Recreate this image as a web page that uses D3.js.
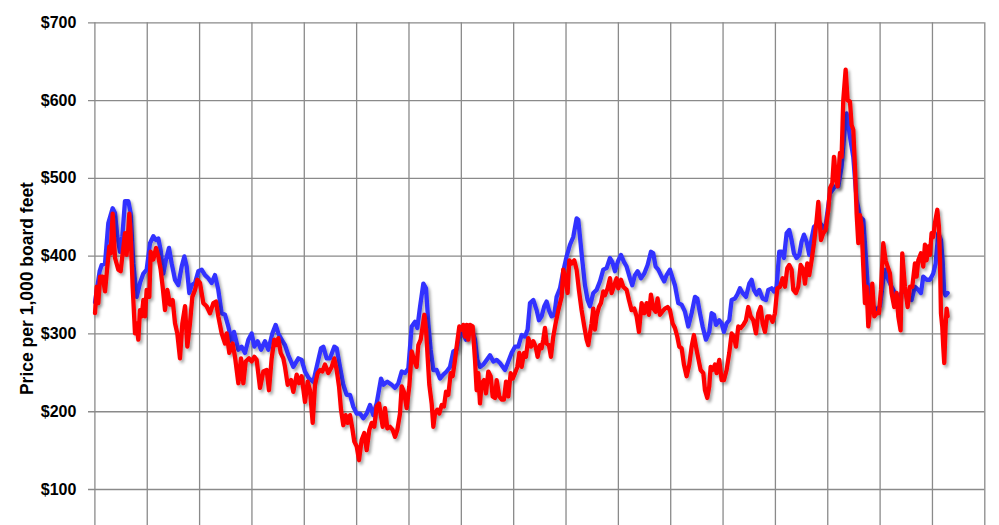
<!DOCTYPE html>
<html>
<head>
<meta charset="utf-8">
<script src="https://cdn.jsdelivr.net/npm/d3@7"></script>
<style>
  html, body { margin: 0; padding: 0; background: #fff; }
  svg { display: block; }
</style>
</head>
<body>
<svg id="chart" width="999" height="525"></svg>
<script>
// ---- Data (decimal years, $ per 1,000 board feet) ----
const yTicks = [100, 200, 300, 400, 500, 600, 700];
const yearGrid = d3.range(2004, 2022);
const yLabel = "Price per 1,000 board feet";

const blueYears = [2004.012,2004.06,2004.10,2004.139,2004.203,2004.266,2004.349,2004.394,2004.438,2004.489,2004.534,2004.584,2004.648,2004.693,2004.744,2004.807,2004.871,2004.935,2004.998,2005.062,2005.126,2005.177,2005.221,2005.266,2005.317,2005.368,2005.425,2005.476,2005.540,2005.603,2005.667,2005.718,2005.763,2005.813,2005.858,2005.922,2005.985,2006.049,2006.113,2006.176,2006.240,2006.304,2006.367,2006.431,2006.495,2006.558,2006.622,2006.667,
2006.750,2006.813,2006.877,2006.941,2007.004,2007.055,2007.119,2007.183,2007.259,2007.323,2007.399,2007.463,2007.514,2007.577,2007.641,2007.705,2007.800,2007.896,2007.959,2008.023,2008.099,2008.182,2008.246,2008.329,2008.373,2008.437,2008.501,2008.583,2008.628,2008.692,2008.755,2008.819,2008.883,2008.946,2009.010,2009.074,2009.137,2009.201,2009.265,2009.328,2009.392,2009.475,
2009.520,2009.596,2009.679,2009.743,2009.806,2009.870,2009.934,2009.997,2010.061,2010.125,2010.169,2010.220,2010.284,2010.335,2010.379,2010.424,2010.475,2010.538,2010.602,2010.666,2010.729,2010.793,2010.857,2010.920,2010.971,2011.035,2011.099,2011.143,2011.207,2011.271,2011.315,2011.366,2011.430,2011.493,2011.557,2011.621,2011.684,2011.748,2011.844,2011.907,2011.971,2012.035,2012.098,2012.162,2012.226,
2012.276,2012.321,2012.384,2012.448,2012.492,2012.543,2012.594,2012.639,2012.683,2012.734,2012.785,2012.830,2012.894,2012.957,2013.021,2013.085,2013.148,2013.212,2013.244,2013.276,2013.320,2013.371,2013.422,2013.467,2013.530,2013.594,2013.658,2013.721,2013.785,2013.849,2013.893,2013.944,2014.008,2014.059,2014.116,2014.167,2014.231,2014.275,2014.326,2014.377,2014.441,2014.504,2014.568,2014.632,2014.676,2014.721,2014.772,2014.836,2014.886,2014.931,2014.995,2015.046,2015.090,
2015.154,2015.218,2015.282,2015.345,2015.409,2015.473,2015.517,2015.568,2015.619,2015.683,2015.746,2015.791,2015.835,2015.874,2015.937,2015.982,2016.026,2016.077,2016.128,2016.173,2016.237,2016.281,2016.332,2016.383,2016.447,2016.510,2016.555,2016.599,2016.650,2016.701,2016.765,2016.829,2016.873,2016.937,2016.981,2017.032,2017.083,2017.128,2017.173,2017.224,2017.274,2017.319,2017.363,2017.414,2017.465,2017.510,2017.555,2017.606,2017.656,2017.701,2017.746,2017.797,2017.860,
2017.956,2018.052,2018.147,2018.211,2018.274,2018.338,2018.370,2018.434,2018.497,2018.561,2018.625,2018.688,2018.720,2018.771,2018.816,2018.879,2018.943,2019.007,2019.070,2019.115,2019.166,2019.229,2019.293,2019.357,2019.420,2019.484,2019.548,2019.611,2019.675,2019.739,2019.790,2019.834,2019.898,2019.962,2020.025,2020.070,2020.121,2020.172,2020.204,2020.235,2020.261,2020.299];
const blueValues = [340,362,380,388,390,442,461,455,425,405,425,470,470,455,390,347,365,377,382,416,425,420,422,407,377,395,410,390,369,362,386,399,386,352,362,365,380,382,375,371,365,375,356,326,324,309,290,302,
279,283,275,292,300,283,290,279,290,279,300,311,300,292,285,272,257,268,266,251,242,238,257,281,283,268,268,283,281,257,234,221,221,206,197,197,191,197,208,195,210,242,
234,238,234,230,236,251,249,255,309,315,307,334,364,358,313,279,253,253,242,247,251,257,277,279,300,300,292,302,307,292,266,257,260,266,272,264,266,262,253,264,275,283,283,298,296,
305,339,343,330,317,322,335,341,330,322,324,347,358,380,399,414,424,448,446,424,394,362,343,335,352,356,367,382,384,397,392,380,394,401,392,386,371,362,375,380,371,377,388,405,403,386,382,373,367,375,382,371,362,
339,337,328,309,326,347,345,326,309,292,302,326,324,311,317,313,302,313,317,343,345,350,358,352,347,364,369,356,350,356,345,343,356,358,354,360,405,405,397,429,433,420,403,397,401,418,427,418,401,422,437,440,442,
433,480,489,489,514,566,583,553,527,472,450,446,416,364,347,335,330,335,369,382,369,360,352,347,352,356,347,343,360,356,352,373,369,369,377,390,429,420,394,352,349,352];

const redYears = [2004.012,2004.043,2004.075,2004.107,2004.158,2004.203,2004.247,2004.285,2004.311,2004.349,2004.394,2004.457,2004.502,2004.540,2004.585,2004.616,2004.667,2004.693,2004.731,2004.776,2004.807,2004.839,2004.871,2004.903,2004.935,2004.967,2004.998,2005.049,2005.075,2005.126,2005.177,2005.221,2005.266,2005.304,2005.349,2005.393,2005.444,2005.495,2005.540,2005.584,2005.635,2005.680,2005.731,2005.775,2005.826,2005.871,2005.922,2005.966,2006.017,2006.081,2006.144,2006.208,2006.272,2006.323,2006.367,2006.431,2006.495,2006.527,2006.577,2006.641,
2006.686,2006.750,2006.801,2006.845,2006.890,2006.953,2007.004,2007.055,2007.100,2007.164,2007.227,2007.291,2007.335,2007.386,2007.437,2007.482,2007.514,2007.558,2007.609,2007.641,2007.692,2007.756,2007.800,2007.864,2007.908,2007.959,2008.023,2008.074,2008.119,2008.170,2008.214,2008.265,2008.310,2008.354,2008.405,2008.469,2008.532,2008.583,2008.628,2008.673,2008.711,2008.755,2008.800,2008.838,2008.883,2008.927,2008.965,2009.010,2009.055,2009.105,2009.156,2009.201,2009.252,2009.297,2009.347,2009.392,2009.437,
2009.507,2009.551,2009.596,2009.647,2009.698,2009.743,2009.787,2009.838,2009.870,2009.914,2009.965,2010.016,2010.061,2010.105,2010.156,2010.188,2010.233,2010.271,2010.303,2010.335,2010.366,2010.398,2010.443,2010.475,2010.507,2010.551,2010.589,2010.634,2010.678,2010.717,2010.761,2010.806,2010.844,2010.889,2010.920,2010.971,2011.016,2011.048,2011.080,2011.111,2011.143,2011.175,2011.226,2011.271,2011.302,2011.334,2011.366,2011.398,2011.443,2011.481,2011.525,2011.570,2011.608,2011.653,2011.684,2011.735,2011.780,2011.824,2011.863,2011.907,2011.952,2011.990,2012.035,2012.079,2012.117,2012.162,2012.207,2012.245,2012.289,
2012.340,2012.384,2012.429,2012.467,2012.512,2012.543,2012.575,2012.607,2012.639,2012.683,2012.722,2012.766,2012.811,2012.862,2012.925,2012.957,2013.002,2013.040,2013.072,2013.116,2013.167,2013.212,2013.256,2013.307,2013.358,2013.403,2013.435,2013.467,2013.498,2013.530,2013.562,2013.594,2013.638,2013.677,2013.721,2013.753,2013.804,2013.849,2013.880,2013.931,2013.976,2014.008,2014.059,2014.103,2014.167,2014.212,2014.262,2014.313,2014.358,2014.403,2014.454,2014.504,2014.549,2014.594,2014.632,2014.676,2014.721,2014.759,2014.804,2014.848,2014.899,2014.950,2014.995,
2015.046,2015.090,2015.135,2015.173,2015.218,2015.262,2015.313,2015.364,2015.409,2015.453,2015.492,2015.536,2015.581,2015.632,2015.664,2015.708,2015.746,2015.772,2015.810,2015.855,2015.886,2015.937,2015.982,2016.026,2016.077,2016.128,2016.173,2016.217,2016.256,2016.300,2016.345,2016.396,2016.447,2016.491,2016.536,2016.587,2016.638,2016.682,2016.727,2016.765,2016.810,2016.854,2016.905,2016.956,2017.001,2017.045,2017.096,2017.147,2017.192,2017.236,2017.274,2017.319,2017.351,2017.402,2017.446,2017.491,2017.542,2017.574,2017.618,2017.656,2017.701,2017.746,2017.797,
2017.829,2017.880,2017.924,2017.969,2018.020,2018.052,2018.096,2018.128,2018.160,2018.198,2018.243,2018.274,2018.306,2018.351,2018.389,2018.434,2018.465,2018.497,2018.529,2018.561,2018.593,2018.625,2018.656,2018.688,2018.720,2018.752,2018.784,2018.828,2018.860,2018.898,2018.943,2018.987,2019.026,2019.070,2019.115,2019.153,2019.198,2019.229,2019.280,2019.325,2019.357,2019.401,2019.433,2019.484,2019.535,2019.580,2019.624,2019.675,2019.707,2019.739,2019.790,2019.834,2019.866,2019.898,2019.930,2019.962,2019.993,2020.025,2020.057,2020.102,2020.134,2020.153,2020.172,2020.197,2020.216,2020.235,2020.261,2020.280,2020.299];
const redValues = [326,360,339,373,373,354,386,412,403,454,397,382,380,403,429,401,454,425,360,300,313,292,330,322,343,322,356,347,405,395,410,399,382,360,330,356,337,343,313,300,268,313,335,283,313,347,356,369,365,339,335,326,339,341,322,300,287,300,275,287,
270,236,268,236,264,268,264,270,266,230,251,253,227,268,292,285,294,275,268,257,234,240,225,247,236,245,212,238,227,185,234,249,253,251,260,249,257,268,253,232,202,182,195,185,195,178,161,155,137,163,172,150,176,185,180,206,210,
180,204,178,180,176,167,176,197,232,225,204,232,277,266,257,285,292,309,324,305,270,234,210,180,197,202,197,208,206,225,221,249,245,266,283,309,305,311,296,311,292,311,309,266,227,249,210,236,240,223,251,245,219,217,240,219,215,215,238,219,249,242,249,257,275,257,275,270,294,
283,290,283,270,285,281,292,307,287,285,270,296,313,330,347,382,369,352,394,390,394,382,356,330,309,292,285,300,313,332,305,322,334,339,354,349,358,371,352,362,371,358,369,360,356,343,330,332,322,302,339,326,339,324,350,332,328,345,324,328,332,334,330,
313,307,296,283,281,260,245,260,283,298,283,268,253,249,227,217,232,257,253,260,249,266,240,240,253,275,300,296,283,309,307,311,317,334,322,317,300,326,334,313,302,322,322,315,326,358,360,371,360,384,388,382,356,352,360,388,382,364,390,375,394,416,446,
469,420,429,433,459,487,493,527,504,489,532,527,600,639,600,598,568,562,514,454,416,452,437,386,339,360,309,334,364,322,326,326,356,416,394,386,377,352,334,352,322,304,403,360,334,360,360,390,373,394,403,386,414,394,412,401,429,424,442,459,437,394,326,309,283,262,309,332,322];

// ---- Layout ----
const svg = d3.select("#chart");
const x = d3.scaleLinear().domain([2004, 2021]).range([94.4, 984.3]);
const y = d3.scaleLinear().domain([0, 700]).range([566.8, 22.3]);
const gridColor = "#8a8a8a";

// drop shadow filter
const defs = svg.append("defs");
const f = defs.append("filter").attr("id", "shadow")
  .attr("x", "-5%").attr("y", "-5%").attr("width", "110%").attr("height", "110%");
f.append("feDropShadow").attr("dx", 2).attr("dy", 2.5).attr("stdDeviation", 1.6)
  .attr("flood-color", "#000").attr("flood-opacity", 0.35);

// horizontal gridlines + y axis ticks
const yAxis = d3.axisLeft(y).tickValues(yTicks).tickSize(x.range()[1] - x.range()[0] + 6.4)
  .tickPadding(12).tickFormat(d => "$" + d);
const gy = svg.append("g").attr("transform", `translate(${x.range()[1]},0)`).call(yAxis);
gy.select(".domain").remove();
gy.selectAll(".tick line").attr("stroke", gridColor).attr("stroke-width", 1.3);
gy.selectAll(".tick text")
  .attr("x", -(x.range()[1] - x.range()[0]) - 18)
  .style("font-family", "'Liberation Sans', Arial, sans-serif")
  .style("font-weight", "bold").style("font-size", "16px").attr("fill", "#000");

// vertical gridlines
const xAxis = d3.axisTop(x).tickValues(yearGrid).tickSize(-(y(0) - y(700))).tickFormat("");
const gx = svg.append("g").attr("transform", `translate(0,${y(700)})`).call(xAxis);
gx.select(".domain").remove();
gx.selectAll(".tick line").attr("stroke", gridColor).attr("stroke-width", 1.3);

// y label
svg.append("text")
  .attr("transform", `translate(33,${(y(0) + y(700)) / 2 - 6}) rotate(-90)`)
  .attr("text-anchor", "middle")
  .style("font-family", "'Liberation Sans', Arial, sans-serif")
  .style("font-weight", "bold").style("font-size", "17.5px")
  .text(yLabel);

// lines
const line = d3.line().x(d => x(d[0])).y(d => y(d[1]));
const blue = blueYears.map((t, i) => [t, blueValues[i]]);
const red = redYears.map((t, i) => [t, redValues[i]]);

svg.append("path").datum(blue).attr("d", line)
  .attr("fill", "none").attr("stroke", "#3333ff").attr("stroke-width", 4.3)
  .attr("stroke-linejoin", "round").attr("stroke-linecap", "round")
  .attr("filter", "url(#shadow)");
svg.append("path").datum(red).attr("d", line)
  .attr("fill", "none").attr("stroke", "#ff0000").attr("stroke-width", 4.3)
  .attr("stroke-linejoin", "round").attr("stroke-linecap", "round")
  .attr("filter", "url(#shadow)");
</script>
</body>
</html>
